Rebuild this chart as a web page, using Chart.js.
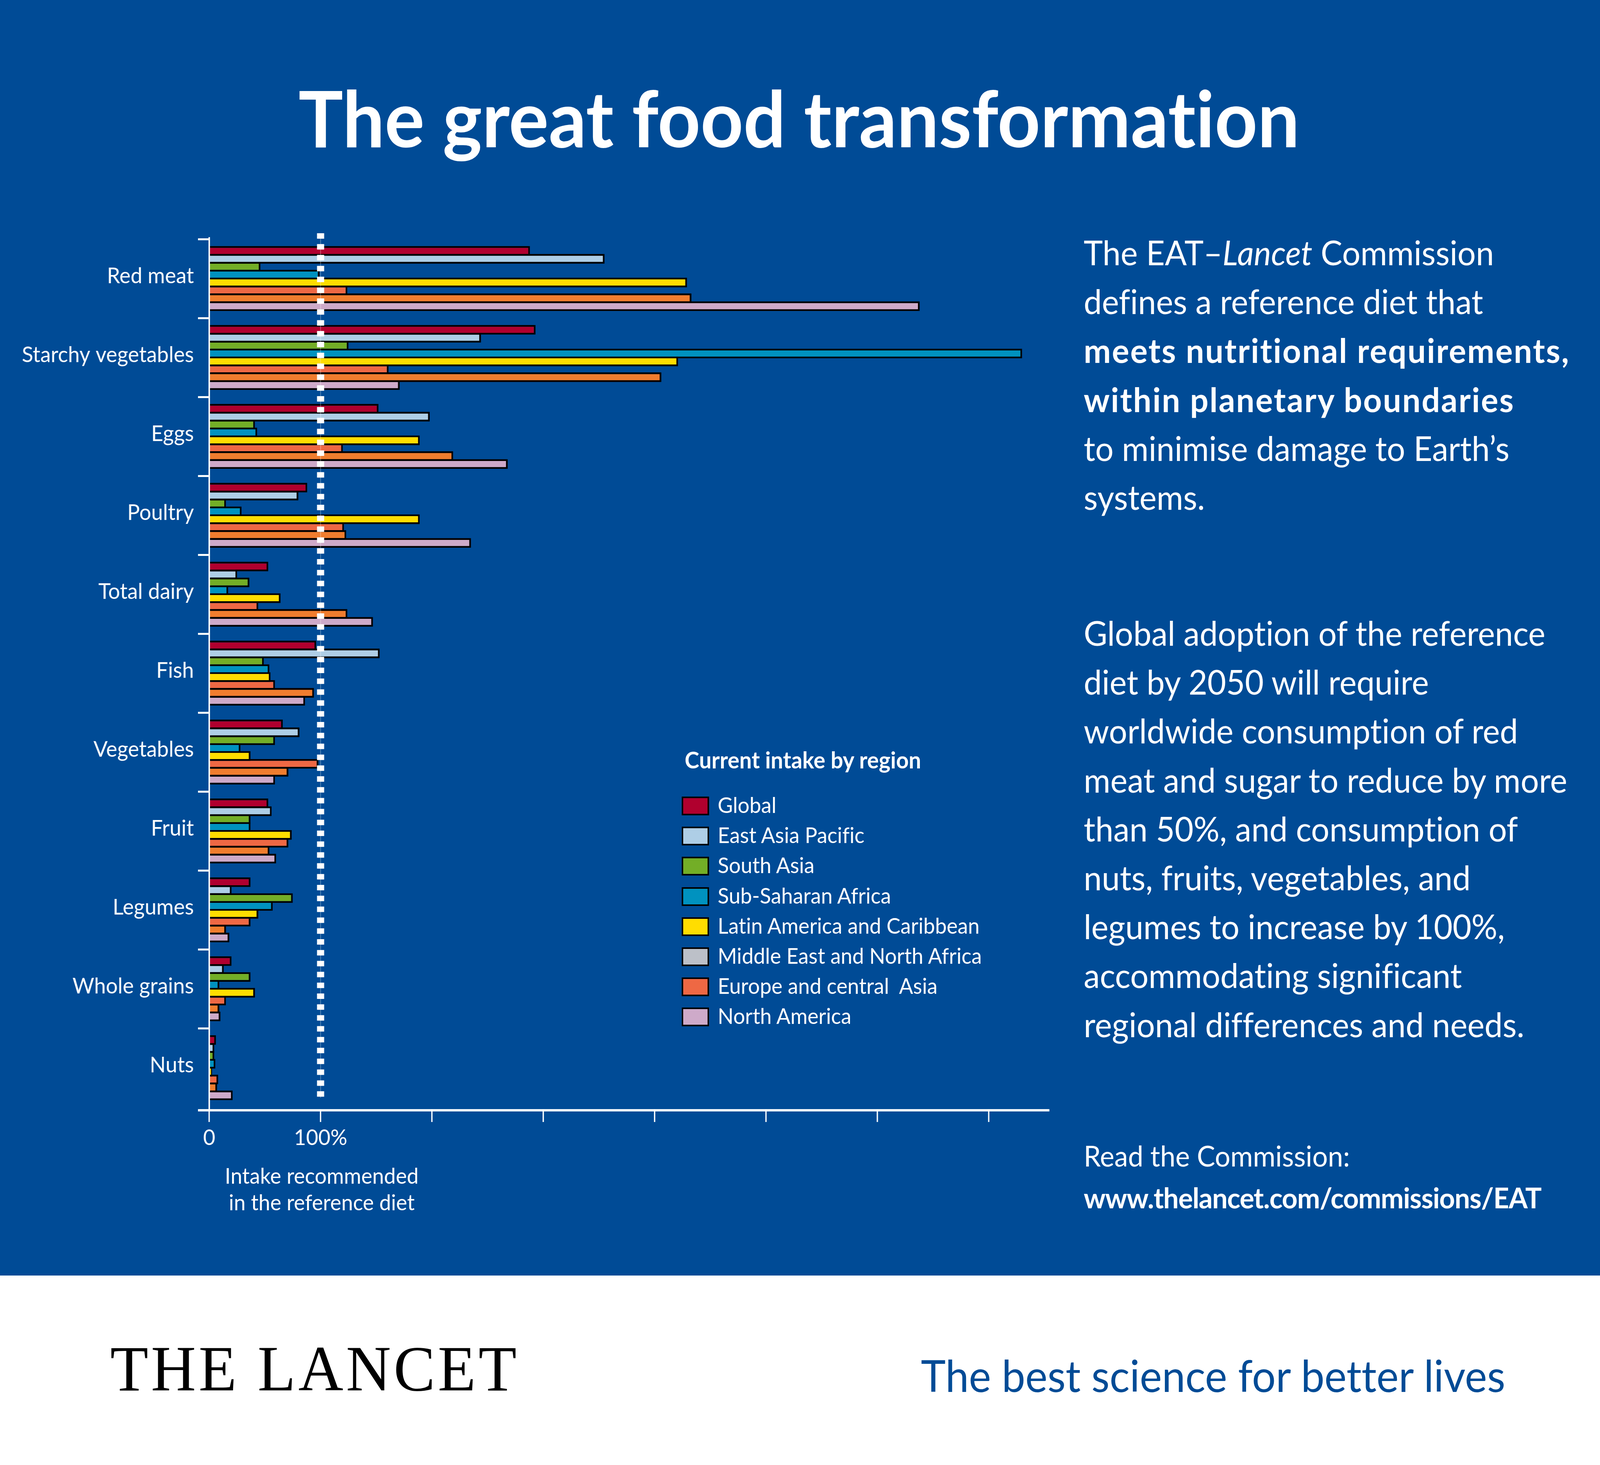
<!DOCTYPE html>
<html>
<head>
<meta charset="utf-8">
<title>The great food transformation</title>
<script src="https://cdn.jsdelivr.net/npm/chart.js@4"></script>
<style>
  html, body { margin: 0; padding: 0; background: #004b96; overflow: hidden; }
  #page { position: relative; width: 4267px; height: 3750px; overflow: hidden; background: #004b96; font-family: Lato, "Noto Sans", sans-serif; color: #fff; font-feature-settings: "liga" 0; transform-origin: 0 0; }
  #footer { position: absolute; left: 0; top: 3265px; width: 4267px; height: 485px; background: #fff; }
  canvas { position: absolute; left: 0; top: 0; }
  .t { position: absolute; white-space: pre; }
  #title { left: 0; width: 4262px; top: 175px; text-align: center; font-size: 199px; font-weight: 700; line-height: 250px; }
  #para1, #para2 { left: 2890px; font-size: 86.5px; line-height: 125.2px; }
  #para1 b { letter-spacing: 2.8px; }
  #para1 { top: 583px; }
  #para2 { top: 1557px; }
  #read { left: 2890px; top: 2905px; font-size: 73px; line-height: 107px; }
  #read b { letter-spacing: -1.25px; }
  #note { left: 558px; width: 600px; top: 2975px; text-align: center; font-size: 56px; line-height: 68px; }
  #legendTitle { left: 1826px; top: 1910px; font-size: 58.7px; font-weight: 700; line-height: 70px; }
  #legend { position: absolute; left: 1818px; top: 2039px; }
  .row { position: absolute; left: 0; height: 48px; }
  .swatch { position: absolute; left: 0; top: 0; width: 65px; height: 40px; border: 4.5px solid #000; border-width: 4px 4.5px; }
  .row span { position: absolute; left: 96px; top: -19px; font-size: 55.5px; line-height: 80px; white-space: pre; }
  #brand { left: 294px; top: 3403px; font-family: "Liberation Serif", serif; font-size: 166px; line-height: 200px; color: #000; letter-spacing: 7.2px; }
  #tag { left: 2456px; top: 3440px; font-size: 112px; line-height: 160px; color: #004b96; }
</style>
</head>
<body>
<div id="page">
  <div id="footer"></div>
  <canvas id="chart" width="4267" height="3750"></canvas>
  <div class="t" id="title">The great food transformation</div>
  <div class="t" id="para1">The EAT–<i>Lancet</i> Commission
defines a reference diet that
<b>meets nutritional requirements,
within planetary boundaries</b>
to minimise damage to Earth’s
systems.</div>
  <div class="t" id="para2">Global adoption of the reference
diet by 2050 will require
worldwide consumption of red
meat and sugar to reduce by more
than 50%, and consumption of
nuts, fruits, vegetables, and
legumes to increase by 100%,
accommodating significant
regional differences and needs.</div>
  <div class="t" id="read">Read the Commission:
<b>www.thelancet.com/commissions/EAT</b></div>
  <div class="t" id="note">Intake recommended
in the reference diet</div>
  <div class="t" id="legendTitle">Current intake by region</div>
  <div id="legend"></div>
  <div class="t" id="brand">THE LANCET</div>
  <div class="t" id="tag">The best science for better lives</div>
</div>
<script>
const foods = ["Red meat", "Starchy vegetables", "Eggs", "Poultry", "Total dairy", "Fish", "Vegetables", "Fruit", "Legumes", "Whole grains", "Nuts"];
const regions = ["Global", "East Asia Pacific", "South Asia", "Sub-Saharan Africa", "Latin America and Caribbean", "Middle East and North Africa", "Europe and central  Asia", "North America"];

// % of the reference diet
const globalIntake = [288, 293, 152, 88, 53, 96, 66, 53, 37, 20, 6];
const eastAsiaPacific = [355, 244, 198, 80, 25, 153, 81, 56, 20, 13, 4.5];
const southAsia = [46, 125, 41, 15, 36, 49, 59, 37, 75, 37, 4.5];
const subSaharanAfrica = [99, 730, 43, 29, 17, 54, 28, 37, 57, 9, 5.5];
const latinAmerica = [429, 421, 189, 189, 64, 55, 37, 74, 44, 41, 2.5];
const middleEast = [124, 161, 120, 121, 44, 59, 98, 71, 37, 15, 8];
const europeCentralAsia = [433, 406, 219, 123, 124, 94, 71, 54, 15, 9, 7];
const northAmerica = [638, 171, 268, 235, 147, 86, 59, 60, 18, 10, 21];

const seriesValues = [globalIntake, eastAsiaPacific, southAsia, subSaharanAfrica, latinAmerica, middleEast, europeCentralAsia, northAmerica];
// bars and key do not use the same colours for the last rows, same as the original
const barColors = ["#b0002e", "#aecee6", "#73ae27", "#0092bf", "#ffdd00", "#ee6844", "#f07d2e", "#ceaac9"];
const legendColors = ["#b0002e", "#aecee6", "#73ae27", "#0092bf", "#ffdd00", "#bcc0c8", "#ee6844", "#ceaac9"];
const xTickLabels = { 0: "0", 100: "100%" };
const referenceLevel = 100;

// the browser window can come out narrower than the artwork, squeeze it to fit
document.getElementById("page").style.transform = `scaleX(${window.innerWidth / 4267})`;

const legend = document.getElementById("legend");
regions.forEach((name, i) => {
  const row = document.createElement("div");
  row.className = "row";
  row.style.top = i * 77.2 + "px";
  row.innerHTML = `<div class="swatch" style="background:${legendColors[i]}"></div><span>${name}</span>`;
  legend.appendChild(row);
});

// x axis sits a little under the last bars; the y ticks reach the same left edge
const AXIS_DROP = 8;
const lateDrawn = [7, 6, 4, 1];

const axisDrop = {
  id: "axisDrop",
  afterLayout(chart) {
    chart.scales.x.top += AXIS_DROP;
    chart.scales.x.bottom += AXIS_DROP;
  },
};

const referenceLine = {
  id: "referenceLine",
  afterDatasetsDraw(chart) {
    const { ctx, chartArea } = chart;
    // some bars overlap their neighbours from below
    lateDrawn.forEach((i) => chart.getDatasetMeta(i).controller.draw());
    const x = chart.scales.x.getPixelForValue(referenceLevel);
    ctx.save();
    ctx.strokeStyle = "rgba(255,255,255,.45)";
    ctx.lineWidth = 1.5;
    ctx.beginPath();
    ctx.moveTo(x, chartArea.top - 15);
    ctx.lineTo(x, chartArea.bottom - 24);
    ctx.stroke();
    ctx.strokeStyle = "#fff";
    ctx.lineWidth = 19;
    ctx.setLineDash([14, 13.8]);
    ctx.beginPath();
    ctx.moveTo(x, chartArea.top - 15);
    ctx.lineTo(x, chartArea.bottom - 26);
    ctx.stroke();
    ctx.restore();
  },
  afterDraw(chart) {
    const { ctx, chartArea } = chart;
    const xAxisY = chart.scales.x.top;
    ctx.save();
    ctx.strokeStyle = "#fff";
    ctx.lineWidth = 4;
    ctx.beginPath();
    ctx.moveTo(chartArea.left, chartArea.top - 5);
    ctx.lineTo(chartArea.left, xAxisY);
    ctx.stroke();
    ctx.lineWidth = 6;
    ctx.beginPath();
    ctx.moveTo(chartArea.left - 30, xAxisY);
    ctx.lineTo(chartArea.left, xAxisY);
    ctx.stroke();
    ctx.restore();
  },
};

new Chart(document.getElementById("chart"), {
  type: "bar",
  data: {
    labels: foods,
    datasets: regions.map((name, i) => ({
      label: name,
      data: seriesValues[i],
      backgroundColor: barColors[i],
      borderColor: "#000",
      borderWidth: 4.5,
      categoryPercentage: 0.8,
      barPercentage: 1.22,
    })),
  },
  options: {
    indexAxis: "y",
    responsive: false,
    animation: false,
    devicePixelRatio: 1,
    layout: { padding: { left: 0, top: 612, right: 1470, bottom: 796 } },
    plugins: { legend: { display: false }, tooltip: { enabled: false } },
    scales: {
      x: {
        min: 0,
        max: 754,
        afterFit(axis) { axis.height = 120; },
        border: { color: "#fff", width: 6 },
        grid: { drawOnChartArea: false, color: "#fff", lineWidth: 3.5, tickLength: 30 },
        ticks: {
          stepSize: 100,
          includeBounds: false,
          autoSkip: false,
          maxRotation: 0,
          color: "#fff",
          padding: 7,
          font: { family: "Lato", size: 56 },
          callback: (v) => xTickLabels[v] || "",
        },
      },
      y: {
        afterFit(axis) { axis.width = 558; },
        border: { display: false },
        grid: {
          drawOnChartArea: false,
          offset: true,
          tickLength: 30,
          lineWidth: 5,
          color: (c) => (c.tick ? "#fff" : "rgba(255,255,255,0)"),
        },
        ticks: {
          color: "#fff",
          padding: 11,
          labelOffset: -6,
          autoSkip: false,
          font: { family: "Lato", size: 56 },
        },
      },
    },
  },
  plugins: [axisDrop, referenceLine],
});
</script>
</body>
</html>
